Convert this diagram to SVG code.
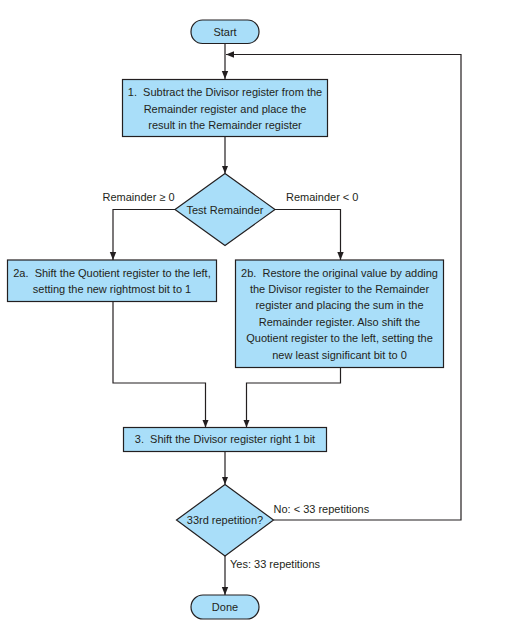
<svg xmlns="http://www.w3.org/2000/svg" width="505" height="626" viewBox="0 0 505 626">
<style>
.box{fill:#a9def9;stroke:#231f20;stroke-width:1.2}
.t{font-family:"Liberation Sans",Arial,sans-serif;font-size:11px;fill:#231f20;text-anchor:middle;dominant-baseline:central;white-space:pre}
.l{font-family:"Liberation Sans",Arial,sans-serif;font-size:11px;fill:#231f20;dominant-baseline:central}
.c{fill:none;stroke:#231f20;stroke-width:1.2}
</style>
<defs>
<marker id="ah" markerUnits="userSpaceOnUse" markerWidth="10" markerHeight="8" refX="8" refY="4" orient="auto">
<path d="M0,0.8 L8,4 L0,7.2 Z" fill="#231f20"/>
</marker>
</defs>
<rect width="505" height="626" fill="#fff"/>
<g id="connectors">
<path class="c" d="M225,43.5 V79" marker-end="url(#ah)"/>
<path class="c" d="M225,136.5 V173.5" marker-end="url(#ah)"/>
<path class="c" d="M175,209.5 H113 V260" marker-end="url(#ah)"/>
<path class="c" d="M275,209.5 H340.5 V260" marker-end="url(#ah)"/>
<path class="c" d="M113,301.5 V383 H205.5 V427.5" marker-end="url(#ah)"/>
<path class="c" d="M340.5,367.5 V383 H246.5 V427.5" marker-end="url(#ah)"/>
<path class="c" d="M225,451.5 V484.5" marker-end="url(#ah)"/>
<path class="c" d="M273.5,520 H461 V54.5 H226" marker-end="url(#ah)"/>
<path class="c" d="M225,556 V595" marker-end="url(#ah)"/>
</g>
<g id="start">
<rect class="box" x="191" y="20" width="68" height="23.5" rx="11.5"/>
<text class="t" x="225" y="32">Start</text>
</g>
<g id="step1">
<rect class="box" x="122.5" y="79.5" width="205" height="57"/>
<text class="t" x="225" y="92.3">1.  Subtract the Divisor register from the</text>
<text class="t" x="225" y="108.8">Remainder register and place the</text>
<text class="t" x="225" y="125.3">result in the Remainder register</text>
</g>
<g id="test">
<path class="box" d="M225,173.5 L275,209.5 L225,245.5 L175,209.5 Z"/>
<text class="t" x="225" y="209.5">Test Remainder</text>
<text class="l" x="102.5" y="197">Remainder ≥ 0</text>
<text class="l" x="286" y="197">Remainder &lt; 0</text>
</g>
<g id="step2a">
<rect class="box" x="7.5" y="260" width="209" height="41.5"/>
<text class="t" x="112" y="272.7">2a.  Shift the Quotient register to the left,</text>
<text class="t" x="112" y="289">setting the new rightmost bit to 1</text>
</g>
<g id="step2b">
<rect class="box" x="235.5" y="260" width="208" height="107.5"/>
<text class="t" x="339.5" y="272.7">2b.  Restore the original value by adding</text>
<text class="t" x="339.5" y="289">the Divisor register to the Remainder</text>
<text class="t" x="339.5" y="305.4">register and placing the sum in the</text>
<text class="t" x="339.5" y="321.8">Remainder register. Also shift the</text>
<text class="t" x="339.5" y="338.3">Quotient register to the left, setting the</text>
<text class="t" x="339.5" y="354.8">new least significant bit to 0</text>
</g>
<g id="step3">
<rect class="box" x="123.5" y="427.5" width="203" height="24"/>
<text class="t" x="225" y="439.3">3.  Shift the Divisor register right 1 bit</text>
</g>
<g id="rep">
<path class="box" d="M225,484.5 L273.5,520 L225,556 L176.5,520 Z"/>
<text class="t" x="225" y="520">33rd repetition?</text>
<text class="l" x="273.5" y="509">No: &lt; 33 repetitions</text>
<text class="l" x="230" y="564">Yes: 33 repetitions</text>
</g>
<g id="done">
<rect class="box" x="191" y="595" width="68" height="24" rx="12"/>
<text class="t" x="225" y="607">Done</text>
</g>
</svg>
